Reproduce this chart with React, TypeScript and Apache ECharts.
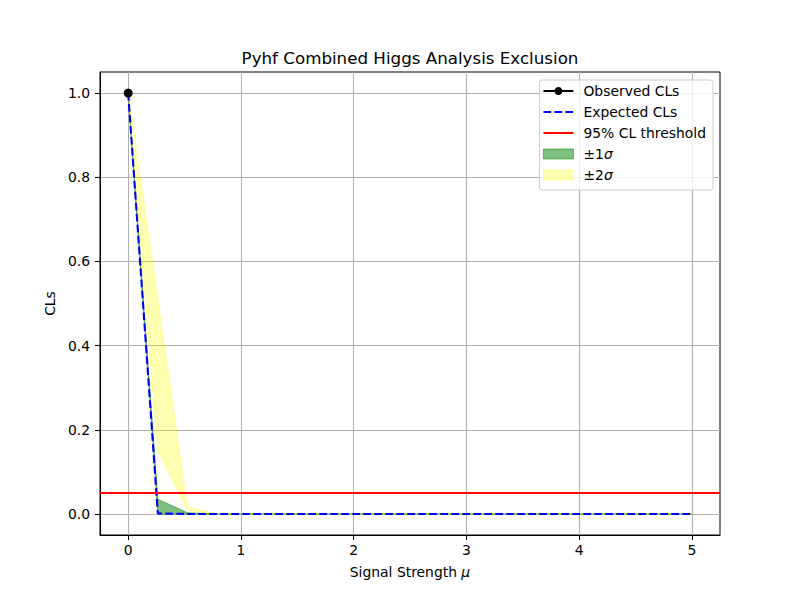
import { useEffect, useRef } from "react";
import * as echarts from "echarts";

// scan points (signal strength mu)
const mu = [
  0, 0.2632, 0.5263, 0.7895, 1.0526, 1.3158, 1.5789, 1.8421, 2.1053, 2.3684,
  2.6316, 2.8947, 3.1579, 3.4211, 3.6842, 3.9474, 4.2105, 4.4737, 4.7368, 5.0,
];
// observed CLs only exists at the first point
const observedCLs: (number | null)[] = [
  1.0, null, null, null, null, null, null, null, null, null,
  null, null, null, null, null, null, null, null, null, null,
];
const expectedCLs = [
  1.0, 0.001, 0, 0, 0, 0, 0, 0, 0, 0, 0, 0, 0, 0, 0, 0, 0, 0, 0, 0,
];
const band1Lo = [1.0, 0.0, 0, 0, 0, 0, 0, 0, 0, 0, 0, 0, 0, 0, 0, 0, 0, 0, 0, 0];
const band1Hi = [1.0, 0.035, 0.003, 0, 0, 0, 0, 0, 0, 0, 0, 0, 0, 0, 0, 0, 0, 0, 0, 0];
const band2Lo = [1.0, 0.15, 0.008, 0, 0, 0, 0, 0, 0, 0, 0, 0, 0, 0, 0, 0, 0, 0, 0, 0];
const band2Hi = [1.0, 0.51, 0.016, 0, 0, 0, 0, 0, 0, 0, 0, 0, 0, 0, 0, 0, 0, 0, 0, 0];
const threshold = 0.05;

const xTicks = [0, 1, 2, 3, 4, 5];
const yTicks = [0, 0.2, 0.4, 0.6, 0.8, 1.0];

const FONT = "DejaVu Sans";
const GREEN = "rgba(0,128,0,0.5)";
const YELLOW = "rgba(255,255,0,0.3)";

function bandSeries(name: string, lo: number[], hi: number[], color: string) {
  return {
    name,
    type: "custom",
    z: 1,
    itemStyle: { color },
    data: [[mu[0], hi[0]]],
    renderItem: (_p: unknown, api: any) => {
      const points: number[][] = [];
      mu.forEach((m, i) => points.push(api.coord([m, hi[i]])));
      for (let i = mu.length - 1; i >= 0; i--) {
        points.push(api.coord([mu[i], lo[i]]));
      }
      return {
        type: "polygon",
        shape: { points },
        style: { fill: color, stroke: color, lineWidth: 1 },
      };
    },
  };
}

export default function App() {
  const ref = useRef<HTMLDivElement>(null);

  useEffect(() => {
    if (!ref.current) return;
    const chart = echarts.init(ref.current, undefined, { renderer: "svg" });

    chart.setOption({
      animation: false,
      textStyle: { fontFamily: FONT },
      title: {
        text: "Pyhf Combined Higgs Analysis Exclusion",
        left: 410,
        top: 49,
        textAlign: "center",
        padding: 0,
        textStyle: { fontFamily: FONT, fontSize: 16.7, fontWeight: "normal", color: "#000" },
      },
      grid: {
        left: 100,
        right: 80,
        top: 72,
        bottom: 65,
        show: true,
        borderColor: "#000",
        borderWidth: 1,
      },
      legend: {
        orient: "vertical",
        right: 87,
        top: 80,
        itemWidth: 30,
        itemHeight: 10,
        itemGap: 5,
        padding: [3, 7, 7, 3],
        backgroundColor: "rgba(255,255,255,0.8)",
        borderColor: "#cccccc",
        borderWidth: 1,
        borderRadius: 3,
        formatter: (name: string) => name.replace("σ", "{i|σ}"),
        textStyle: {
          fontFamily: FONT,
          fontSize: 13.9,
          color: "#000",
          lineHeight: 16,
          padding: [0, 0, 0, 5],
          rich: {
            i: { fontFamily: FONT, fontSize: 13.9, fontStyle: "italic", color: "#000" },
          },
        },
        data: [
          { name: "Observed CLs" },
          { name: "Expected CLs", itemStyle: { opacity: 0 } },
          { name: "95% CL threshold", itemStyle: { opacity: 0 } },
          { name: "±1σ", icon: "rect", itemStyle: { color: GREEN, borderColor: GREEN, borderWidth: 1 } },
          { name: "±2σ", icon: "rect", itemStyle: { color: YELLOW, borderColor: YELLOW, borderWidth: 1 } },
        ],
      },
      xAxis: {
        type: "value",
        min: -0.25,
        max: 5.25,
        name: "Signal Strength {i|μ}",
        nameLocation: "middle",
        nameGap: 30,
        nameTextStyle: {
          fontFamily: FONT,
          fontSize: 13.9,
          color: "#000",
          rich: { i: { fontFamily: FONT, fontSize: 13.9, fontStyle: "italic", color: "#000" } },
        },
        axisLine: { show: true, onZero: false, lineStyle: { color: "#000", width: 1 } },
        axisTick: { show: true, length: 5, customValues: xTicks, lineStyle: { color: "#000", width: 1 } },
        axisLabel: { customValues: xTicks, color: "#000", fontSize: 13.9, fontFamily: FONT, margin: 8 },
        splitLine: { show: true, lineStyle: { color: "#b0b0b0", width: 1.1 } },
      },
      yAxis: {
        type: "value",
        min: -0.05,
        max: 1.05,
        name: "CLs",
        nameLocation: "middle",
        nameGap: 38,
        nameTextStyle: { fontFamily: FONT, fontSize: 13.9, color: "#000" },
        axisLine: { show: true, onZero: false, lineStyle: { color: "#000", width: 1 } },
        axisTick: { show: true, length: 5, customValues: yTicks, lineStyle: { color: "#000", width: 1 } },
        axisLabel: {
          customValues: yTicks,
          color: "#000",
          fontSize: 13.9,
          fontFamily: FONT,
          margin: 10,
          formatter: (v: number) => v.toFixed(1),
        },
        splitLine: { show: true, lineStyle: { color: "#b0b0b0", width: 1.1 } },
      },
      series: [
        bandSeries("±1σ", band1Lo, band1Hi, GREEN),
        bandSeries("±2σ", band2Lo, band2Hi, YELLOW),
        {
          name: "95% CL threshold",
          type: "line",
          z: 2,
          data: [],
          symbol: "none",
          itemStyle: { color: "#ff0000" },
          lineStyle: { color: "#ff0000", width: 2.08 },
          markLine: {
            silent: true,
            symbol: ["none", "none"],
            label: { show: false },
            lineStyle: { color: "#ff0000", width: 2.08, type: "solid" },
            data: [{ yAxis: threshold }],
          },
        },
        {
          name: "Expected CLs",
          type: "line",
          z: 3,
          symbol: "none",
          data: mu.map((m, i) => [m, expectedCLs[i]]),
          itemStyle: { color: "#0000ff" },
          lineStyle: { color: "#0000ff", width: 2.08, type: [7.7, 3.3] },
        },
        {
          name: "Observed CLs",
          type: "line",
          z: 4,
          symbol: "circle",
          symbolSize: 9,
          showSymbol: true,
          data: mu
            .map((m, i) => [m, observedCLs[i]])
            .filter((p) => p[1] !== null),
          itemStyle: { color: "#000" },
          lineStyle: { color: "#000", width: 2.08 },
        },
      ],
    });

    return () => chart.dispose();
  }, []);

  return (
    <div
      ref={ref}
      style={{ position: "absolute", left: 0, top: 0, width: 800, height: 600, background: "#fff" }}
    />
  );
}
